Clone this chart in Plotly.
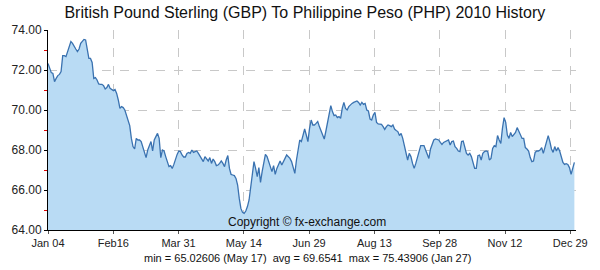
import numpy as np
import plotly.graph_objects as go

# GBP -> PHP daily rate in 2010 (evenly spaced over the year)
rates = [
    72.33, 72.08, 71.87, 71.83, 71.42, 71.58, 71.72, 71.78, 71.92, 72.72,
    72.72, 72.67, 72.95, 73.22, 73.42, 73.33, 73.22, 73.05, 72.92, 73.05,
    73.33, 73.45, 73.53, 73.50, 72.92, 72.58, 72.58, 72.38, 71.58, 71.62,
    71.50, 71.30, 71.28, 71.28, 71.22, 71.05, 71.12, 71.28, 71.08, 71.00,
    70.97, 71.03, 70.83, 70.50, 70.08, 70.17, 70.12, 70.00, 69.75, 69.42,
    69.22, 68.58, 68.17, 68.05, 68.58, 68.50, 68.50, 68.42, 68.17, 67.92,
    67.62, 68.00, 68.22, 68.42, 67.95, 68.50, 68.67, 68.83, 68.58, 67.62,
    68.00, 67.95, 67.67, 67.42, 67.17, 67.22, 67.08, 67.28, 67.58, 67.78,
    67.95, 67.92, 67.75, 67.65, 67.65, 67.83, 67.88, 67.83, 68.00, 67.88,
    67.92, 67.95, 67.83, 67.67,
    67.50, 67.42, 67.67, 67.58, 67.45, 67.62, 67.33, 67.55, 67.42, 67.22,
    67.25, 67.33, 67.45, 67.33, 67.17, 67.50, 67.72, 67.08, 66.78, 66.75,
    66.72, 66.58, 66.25, 65.58, 65.08, 64.88, 64.83, 64.95, 65.17, 65.50,
    66.08, 66.92, 67.42, 67.08, 66.67, 67.12, 66.38, 66.92, 67.45, 67.78,
    67.67, 67.38, 67.08, 66.92, 67.22, 66.78, 67.08, 67.28, 67.45, 67.25,
    67.45, 67.58, 67.75, 67.67, 67.58, 67.42, 67.17, 66.83, 67.50, 68.00,
    68.50, 68.42, 68.75, 69.05, 68.75, 68.42, 69.08, 69.50, 69.25, 69.25,
    69.33, 69.42, 69.17, 68.95, 68.75, 68.55, 68.95, 69.33, 69.75, 70.22,
    69.92, 69.72, 69.75, 69.62, 69.67, 69.58, 70.08, 70.38, 70.08, 70.00,
    70.17, 70.28, 70.33, 70.38, 70.42, 70.45, 70.38, 70.25, 70.38, 70.28,
    70.33, 70.00, 69.95, 69.55, 69.50, 69.75, 69.88, 69.38, 69.30, 69.30,
    69.28, 69.17, 69.03, 69.17, 69.25, 69.22,
    69.17, 69.25, 69.05, 68.98, 68.92, 68.72, 68.83, 68.58, 68.17, 67.83,
    67.50, 67.83, 67.67, 67.33, 67.08, 67.33, 67.67, 68.00, 68.22, 68.22,
    68.22, 68.00, 67.75, 67.58, 68.05, 68.33, 68.50, 68.55, 68.53, 68.50,
    68.38, 68.28, 68.38, 68.42, 68.50, 68.50, 68.25, 68.42, 68.45, 68.17,
    68.08, 67.95, 67.92, 68.42, 68.45, 68.08, 67.83, 67.75, 67.83, 67.67,
    67.33, 67.08, 67.08, 67.72, 67.75, 67.50, 67.83, 67.92, 67.95, 67.92,
    67.50, 67.58, 68.08, 68.22, 68.17, 68.72, 68.50, 68.33, 69.08, 69.62,
    69.38, 68.75, 68.58, 68.88, 68.67, 68.78, 68.88, 69.12, 68.95, 68.78,
    68.58, 68.58, 68.12, 68.05, 67.95, 67.62, 67.42, 67.45, 67.88, 67.95,
    67.95, 68.00, 68.12, 67.83, 68.12, 68.33, 68.72, 68.42, 68.05, 67.88,
    68.17, 67.95, 68.12, 67.95, 67.72, 67.38, 67.28, 67.32, 67.28, 67.12,
    66.78, 67.08, 67.38,
]

# trading-day positions (0 = Jan 04, last = Dec 31) and tick labels every 32 trading days
n_days = 259
tick_days = [0, 32, 64, 96, 128, 160, 192, 224, 256]
tick_labels = ["Jan 04", "Feb16", "Mar 31", "May 14", "Jun 29", "Aug 13", "Sep 28", "Nov 12", "Dec 29"]
y_ticks = [64, 66, 68, 70, 72, 74]
y_labels = ["64.00", "66.00", "68.00", "70.00", "72.00", "74.00"]

title = "British Pound Sterling (GBP) To Philippine Peso (PHP) 2010 History"
footer = "min = 65.02606 (May 17)  avg = 69.6541  max = 75.43906 (Jan 27)"
copyright_text = "Copyright © fx-exchange.com"

x = np.linspace(0, n_days - 1, len(rates))

FONT = "Liberation Sans"

fig = go.Figure()
fig.add_trace(go.Scatter(
    x=x, y=rates, mode="lines",
    line=dict(color="#3a72b0", width=1.3),
    fill="tozeroy", fillcolor="#b9dbf4",
    hoverinfo="skip",
))

fig.update_layout(
    width=600, height=270,
    margin=dict(l=46, r=24, t=30, b=40),
    paper_bgcolor="white", plot_bgcolor="white",
    showlegend=False,
    font=dict(family=FONT, size=12, color="#222"),
    title=dict(text=title, x=0.508, xanchor="center", y=0.955, yanchor="middle",
               font=dict(family=FONT, size=16, color="#111")),
    xaxis=dict(
        range=[0, 258.8], tickmode="array", tickvals=tick_days, ticktext=tick_labels,
        showgrid=True, gridcolor="#c8c8c8", griddash="dash", gridwidth=1,
        showline=True, linecolor="#000", linewidth=1,
        ticks="outside", ticklen=3, tickcolor="#555",
        tickfont=dict(family=FONT, size=11, color="#222"),
        zeroline=False,
    ),
    yaxis=dict(
        range=[64, 74], tickmode="array", tickvals=y_ticks, ticktext=y_labels,
        showgrid=True, gridcolor="#c8c8c8", griddash="dash", gridwidth=1,
        showline=True, linecolor="#000", linewidth=1,
        ticks="outside", ticklen=3, tickcolor="#000",
        tickfont=dict(family=FONT, size=12, color="#222"),
        minor=dict(dtick=1, tick0=64, ticks="outside", ticklen=3, tickcolor="#e00000", showgrid=False),
        zeroline=False,
    ),
    annotations=[
        dict(text=copyright_text, xref="paper", yref="paper", x=0.49, y=0.0, yshift=8,
             xanchor="center", yanchor="middle", showarrow=False,
             font=dict(family=FONT, size=12, color="#111")),
        dict(text=footer, xref="paper", yref="paper", x=0.492, y=0, yshift=-28,
             xanchor="center", yanchor="middle", showarrow=False,
             font=dict(family=FONT, size=11, color="#111")),
    ],
)

fig.write_html("out.html")
